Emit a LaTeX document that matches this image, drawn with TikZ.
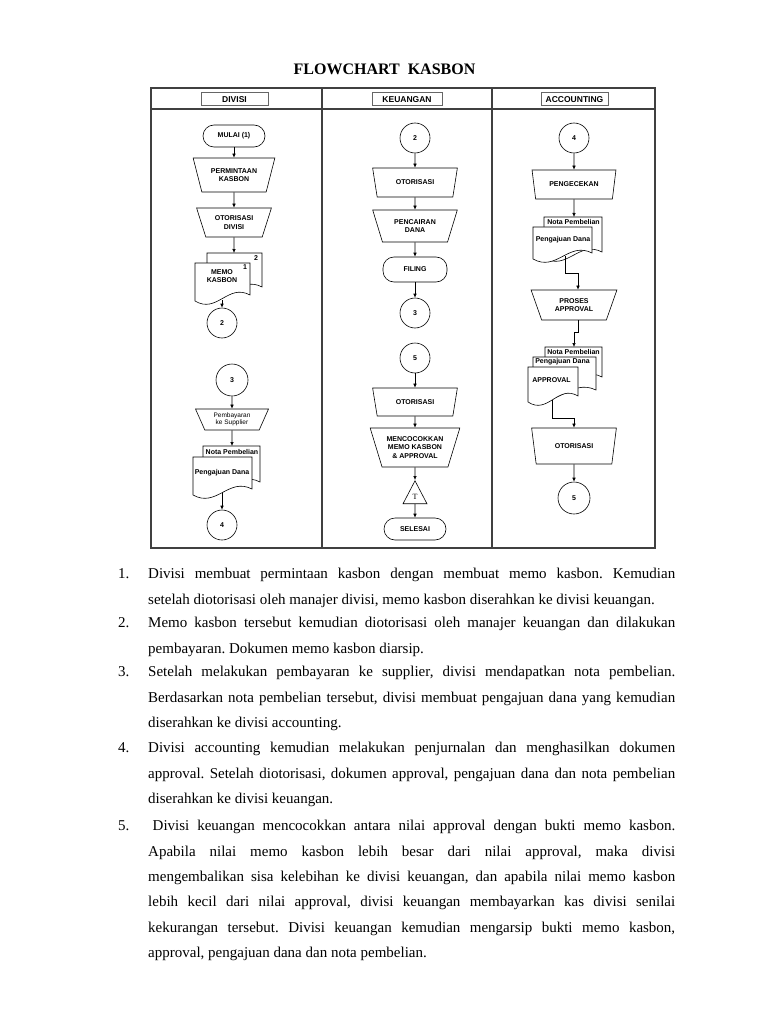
\documentclass[tikz,border=0pt]{standalone}
\usepackage{fontspec}
\setmainfont{Liberation Serif}
\newfontfamily\arialfont{Liberation Sans}
\usepackage{tikz}
\usetikzlibrary{shapes.geometric, arrows.meta}

% document sheet: x, y (top left), width, left height, wave
\newcommand{\docsheet}[5]{%
  \filldraw[fill=white, line width=0.6pt]
    (#1,#2) -- (#1+#3,#2) -- (#1+#3,#2+#4-#5)
    .. controls (#1+0.6*#3,#2+#4-3*#5) and (#1+0.4*#3,#2+#4+2.2*#5) .. (#1,#2+#4) -- cycle;}

\begin{document}
\begin{tikzpicture}[x=1pt, y=-1pt,
  lbl/.style={font=\arialfont\bfseries\fontsize{7}{8.5}\selectfont, align=center, inner sep=0pt},
  head/.style={draw=black!60, line width=1pt, minimum width=#1, minimum height=13pt, inner sep=0pt, font=\arialfont\bfseries\fontsize{8.5}{9}\selectfont},
  termin/.style={lbl, draw, line width=0.6pt, rounded corners=11pt, minimum width=62pt, minimum height=22pt},
  manop/.style 2 args={lbl, draw, line width=0.6pt, trapezium, shape border rotate=180, trapezium angle=65, trapezium stretches=true, minimum width=#1, minimum height=#2},
  conn/.style={lbl, draw, line width=0.6pt, circle, minimum size=30pt},
  flow/.style={-{Latex[length=4pt, width=3.5pt]}, line width=0.6pt},
  item/.style={anchor=north west, inner sep=0pt, text width=527pt, align=justify, font=\fontsize{15}{25.4}\selectfont\frenchspacing},
  num/.style={anchor=north west, inner sep=0pt, font=\fontsize{15}{25.4}\selectfont},
]
\fill[white] (0,0) rectangle (768,1024);
\useasboundingbox (0,0) rectangle (768,1024);

\node[font=\bfseries\fontsize{16}{18}\selectfont, anchor=base] (title) at (384.5,75) {FLOWCHART~ KASBON};

% lanes
\draw[black!75, line width=1.2pt] (151,88) rectangle (655,548);
\draw[black!75, line width=1.2pt] (151,109) -- (655,109);
\draw[black!75, line width=1.2pt] (322,88) -- (322,548);
\draw[black!75, line width=1.2pt] (492,88) -- (492,548);
\node[head=67pt] (hdiv) at (234.5,99.5) {DIVISI};
\node[head=70pt] (hkeu) at (407,99.5) {KEUANGAN};
\node[head=67pt] (hacc) at (574.5,99.5) {ACCOUNTING};

% divisi
\node[termin] (mulai) at (234,136) {MULAI (1)};
\node[manop={82pt}{34pt}] (perm) at (234,175) {PERMINTAAN\\KASBON};
\node[manop={75pt}{29pt}] (otdiv) at (234,222.5) {OTORISASI\\DIVISI};
\docsheet{207}{253}{55}{40}{6}
\docsheet{195}{263}{55}{38}{6}
\coordinate (memoT) at (234,253);
\coordinate (memoB) at (222,300);
\node[lbl] (memo) at (222,276) {MEMO\\KASBON};
\node[lbl] (memo1) at (245,267) {1};
\node[lbl] (memo2) at (256,258) {2};
\node[conn] (c2a) at (222,323) {2};
\node[conn, minimum size=32pt] (c3a) at (232,380) {3};
\node[manop={73pt}{21pt}, font=\arialfont\fontsize{6.5}{7.5}\selectfont] (bayar) at (232,419.5) {Pembayaran\\ke Supplier};
\docsheet{203}{446}{57}{42}{6}
\docsheet{193}{457}{59}{38}{6}
\coordinate (notaT) at (232,446);
\coordinate (notaB) at (222,493);
\node[lbl] (nota1) at (232,451.5) {Nota Pembelian};
\node[lbl] (aju1) at (222,472.5) {Pengajuan Dana};
\node[conn] (c4a) at (222,525) {4};
\draw[flow] (mulai) -- (perm);
\draw[flow] (perm) -- (otdiv);
\draw[flow] (otdiv) -- (memoT);
\draw[flow] (memoB) -- (c2a);
\draw[flow] (c3a) -- (bayar);
\draw[flow] (bayar) -- (notaT);
\draw[flow] (notaB) -- (c4a);

% keuangan
\node[conn] (c2b) at (415,138) {2};
\node[manop={85pt}{29pt}] (otk1) at (415,182.5) {OTORISASI};
\node[manop={85pt}{32pt}] (cair) at (415,226) {PENCAIRAN\\DANA};
\node[termin, minimum width=64pt, minimum height=25pt] (filing) at (415,269.5) {FILING};
\node[conn] (c3b) at (415,313) {3};
\node[conn] (c5b) at (415,358) {5};
\node[manop={85pt}{28pt}] (otk2) at (415,402) {OTORISASI};
\node[manop={90pt}{39pt}] (cocok) at (415,447.5) {MENCOCOKKAN\\MEMO KASBON\\\& APPROVAL};
\node[draw, line width=0.6pt, isosceles triangle, shape border rotate=90, isosceles triangle stretches, minimum width=24pt, minimum height=23pt, inner sep=0pt, anchor=apex, font=\fontsize{8}{8}\selectfont] (tri) at (415,480) {T};
\node[termin] (selesai) at (415,529) {SELESAI};
\draw[flow] (c2b) -- (otk1);
\draw[flow] (otk1) -- (cair);
\draw[flow] (cair) -- (filing);
\draw[flow] (filing) -- (c3b);
\draw[flow] (c5b) -- (otk2);
\draw[flow] (otk2) -- (cocok);
\draw[flow] (cocok) -- (tri);
\draw[flow] (tri) -- (selesai);

% accounting
\node[conn] (c4b) at (574,138) {4};
\node[manop={84pt}{29pt}] (cek) at (574,184.5) {PENGECEKAN};
\docsheet{544}{217}{58}{41}{6}
\docsheet{533}{227}{59}{32}{6}
\coordinate (docAT) at (574,217);
\coordinate (docAB) at (565,256);
\node[lbl] (nota2) at (573.5,222.3) {Nota Pembelian};
\node[lbl] (aju2) at (563,240) {Pengajuan Dana};
\node[manop={86pt}{30pt}] (proses) at (574,305) {PROSES\\APPROVAL};
\docsheet{545}{347}{57}{36}{6}
\docsheet{533}{357}{63}{39}{6}
\docsheet{528}{367}{50}{35}{6}
\coordinate (docBT) at (574,347);
\coordinate (docBB) at (552,400);
\node[lbl] (nota3) at (573.5,351.5) {Nota Pembelian};
\node[lbl] (aju3) at (562.5,362) {Pengajuan Dana};
\node[lbl] (appr) at (551.5,380.5) {APPROVAL};
\node[manop={85pt}{36pt}] (otacc) at (574,446) {OTORISASI};
\node[conn, minimum size=32pt] (c5a) at (574,498) {5};
\draw[flow] (c4b) -- (cek);
\draw[flow] (cek) -- (docAT);
\draw[flow] (docAB) -- ++(0,17) -| ([xshift=4pt]proses.north);
\draw[flow] ([xshift=4pt]proses.south) -- ++(0,12) -| (docBT);
\draw[flow] (docBB) -- ++(0,18) -| (otacc);
\draw[flow] (otacc) -- (c5a);

% keterangan
\node[num] (n1) at (118,560.7) {\strut 1.};
\node[item] (t1) at (148,560.7) {\strut Divisi membuat permintaan kasbon dengan membuat memo kasbon. Kemudian\linebreak setelah diotorisasi oleh manajer divisi, memo kasbon diserahkan ke divisi keuangan.};
\node[num] (n2) at (118,609.7) {\strut 2.};
\node[item] (t2) at (148,609.7) {\strut Memo kasbon tersebut kemudian diotorisasi oleh manajer keuangan dan dilakukan\linebreak pembayaran. Dokumen memo kasbon diarsip.};
\node[num] (n3) at (118,658.7) {\strut 3.};
\node[item] (t3) at (148,658.7) {\strut Setelah melakukan pembayaran ke supplier, divisi mendapatkan nota pembelian.\linebreak Berdasarkan nota pembelian tersebut, divisi membuat pengajuan dana yang kemudian\linebreak diserahkan ke divisi accounting.};
\node[num] (n4) at (118,734.7) {\strut 4.};
\node[item] (t4) at (148,734.7) {\strut Divisi accounting kemudian melakukan penjurnalan dan menghasilkan dokumen\linebreak approval. Setelah diotorisasi, dokumen approval, pengajuan dana dan nota pembelian\linebreak diserahkan ke divisi keuangan.};
\node[num] (n5) at (118,812.7) {\strut 5.};
\node[item] (t5) at (148,812.7) {\strut\hspace*{4.5pt}Divisi keuangan mencocokkan antara nilai approval dengan bukti memo kasbon.\linebreak Apabila nilai memo kasbon lebih besar dari nilai approval, maka divisi\linebreak mengembalikan sisa kelebihan ke divisi keuangan, dan apabila nilai memo kasbon\linebreak lebih kecil dari nilai approval, divisi keuangan membayarkan kas divisi senilai\linebreak kekurangan tersebut. Divisi keuangan kemudian mengarsip bukti memo kasbon,\linebreak approval, pengajuan dana dan nota pembelian.};
\end{tikzpicture}
\end{document}
